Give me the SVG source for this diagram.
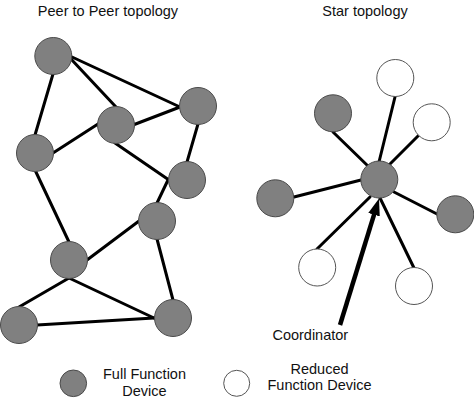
<svg xmlns="http://www.w3.org/2000/svg" width="474" height="401" viewBox="0 0 474 401">
<defs>
<style>
text{font-family:"Liberation Sans",Arial,sans-serif;font-size:14.5px;fill:#111;text-anchor:middle}
.e line{stroke:#000;stroke-width:3;stroke-linecap:round}
.f{fill:#808080;stroke:#4a4a4a;stroke-width:1}
.r{fill:#fff;stroke:#555;stroke-width:1}
</style>
<marker id="ah" markerUnits="userSpaceOnUse" markerWidth="17" markerHeight="12" refX="2" refY="6" orient="auto">
<path d="M0,0 L17,6 L0,12 z" fill="#000"/>
</marker>
</defs>
<rect width="474" height="401" fill="#fff"/>
<text x="108" y="16">Peer to Peer topology</text>
<text x="365" y="16">Star topology</text>
<g id="connectors" class="e">
<line x1="72" y1="57" x2="180" y2="107"/>
<line x1="71" y1="59" x2="116" y2="107"/>
<line x1="53" y1="74" x2="35" y2="135"/>
<line x1="133" y1="125" x2="180" y2="107"/>
<line x1="53" y1="153" x2="98" y2="124"/>
<line x1="115" y1="143" x2="169" y2="180"/>
<line x1="198" y1="124" x2="187" y2="162"/>
<line x1="168" y1="180" x2="157" y2="203"/>
<line x1="35" y1="170" x2="69" y2="242"/>
<line x1="87" y1="260" x2="139" y2="221"/>
<line x1="157" y1="239" x2="173" y2="300"/>
<line x1="69" y1="278" x2="19" y2="307"/>
<line x1="69" y1="278" x2="154" y2="318"/>
<line x1="37" y1="325" x2="154" y2="318"/>
<line x1="395" y1="97" x2="379" y2="162"/>
<line x1="419" y1="135" x2="389" y2="165"/>
<line x1="333" y1="132" x2="369" y2="167"/>
<line x1="294" y1="197" x2="361" y2="180"/>
<line x1="437" y1="214" x2="394" y2="192"/>
<line x1="317" y1="249" x2="370" y2="197"/>
<line x1="414" y1="268" x2="380" y2="198"/>
<line x1="340" y1="325" x2="374.6" y2="212.8" style="stroke-width:4.5;stroke-linecap:butt" marker-end="url(#ah)"/>
</g>
<g id="p1"><circle class="f" cx="53.3" cy="56" r="18.5"/></g>
<g id="p2"><circle class="f" cx="116" cy="125" r="18.5"/></g>
<g id="p3"><circle class="f" cx="198" cy="106" r="18.5"/></g>
<g id="p4"><circle class="f" cx="35" cy="153" r="18.5"/></g>
<g id="p5"><circle class="f" cx="187" cy="180" r="18.5"/></g>
<g id="p6"><circle class="f" cx="157" cy="221" r="18.5"/></g>
<g id="p7"><circle class="f" cx="69" cy="260" r="18.5"/></g>
<g id="p8"><circle class="f" cx="19" cy="325" r="18.5"/></g>
<g id="p9"><circle class="f" cx="173" cy="318" r="18.5"/></g>
<g id="coordinator"><circle class="f" cx="379.3" cy="179.5" r="18.5"/></g>
<g id="s1"><circle class="r" cx="395.3" cy="78" r="18.5"/></g>
<g id="s2"><circle class="r" cx="431.7" cy="122.3" r="18.5"/></g>
<g id="s3"><circle class="f" cx="333" cy="113.3" r="18.5"/></g>
<g id="s4"><circle class="f" cx="275.3" cy="198.3" r="18.5"/></g>
<g id="s5"><circle class="f" cx="455.3" cy="214.3" r="18.5"/></g>
<g id="s6"><circle class="r" cx="317.2" cy="267.5" r="18.5"/></g>
<g id="s7"><circle class="r" cx="414" cy="286" r="18.5"/></g>
<g id="coordinator-label"><text x="310.3" y="340">Coordinator</text></g>
<g id="legend-ffd">
<circle class="f" cx="73.3" cy="383.3" r="13.3"/>
<text x="144.5" y="379">Full Function</text>
<text x="144.5" y="395.5">Device</text>
</g>
<g id="legend-rfd">
<circle class="r" cx="236.7" cy="383.3" r="13"/>
<text x="319.5" y="373.5">Reduced</text>
<text x="319.5" y="390">Function Device</text>
</g>
</svg>
